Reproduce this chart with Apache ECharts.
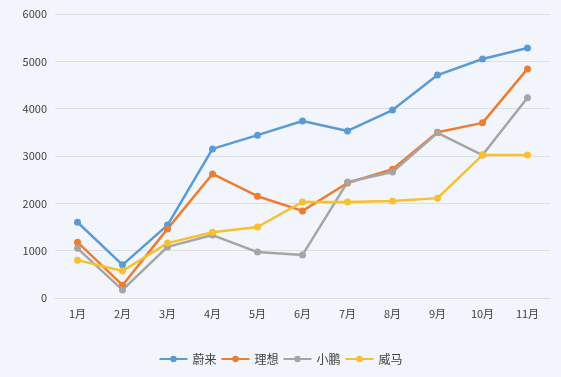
<!DOCTYPE html>
<html>
<head>
<meta charset="utf-8">
<script src="https://cdn.jsdelivr.net/npm/echarts@6/dist/echarts.min.js"></script>
<style>
  html, body { margin: 0; padding: 0; background: #f2f6fc; }
  #chart { width: 561px; height: 377px; }
</style>
</head>
<body>
<div id="chart"></div>
<script>
// 月份
var months = ["1月", "2月", "3月", "4月", "5月", "6月", "7月", "8月", "9月", "10月", "11月"];
// 各品牌数据
var nio = [1600, 700, 1540, 3150, 3440, 3740, 3530, 3970, 4710, 5050, 5280];
var lixiang = [1180, 270, 1460, 2620, 2150, 1840, 2430, 2720, 3500, 3700, 4840];
var xpeng = [1050, 170, 1080, 1330, 970, 910, 2450, 2660, 3490, 3020, 4230];
var weima = [800, 570, 1160, 1390, 1500, 2030, 2030, 2050, 2110, 3020, 3020];

var colors = ['#5b9bd5', '#ed7d31', '#a5a5a5', '#f5c12e'];

function makeSeries(name, data) {
  return {
    name: name,
    type: 'line',
    data: data,
    symbol: 'circle',
    symbolSize: 7,
    lineStyle: { width: 2.5 },
    emphasis: { disabled: true }
  };
}

var chart = echarts.init(document.getElementById('chart'));
chart.setOption({
  backgroundColor: '#f2f6fc',
  color: colors,
  animation: false,
  grid: { left: 55, right: 11, top: 14, bottom: 79 },
  legend: {
    bottom: 7,
    left: 'center',
    itemWidth: 28,
    itemHeight: 8,
    itemGap: 4,
    textStyle: { color: '#404040', fontSize: 12, fontFamily: 'Noto Sans CJK SC' },
    data: ['蔚来', '理想', '小鹏', '威马']
  },
  xAxis: {
    type: 'category',
    data: months,
    axisLine: { lineStyle: { color: '#d9dce3' } },
    axisTick: { show: false },
    axisLabel: { color: '#404040', fontSize: 11, margin: 10, fontFamily: 'Noto Sans CJK SC' }
  },
  yAxis: {
    type: 'value',
    min: 0,
    max: 6000,
    interval: 1000,
    axisLabel: {
      color: '#404040', fontSize: 11, margin: 8, fontFamily: 'Noto Sans CJK SC',
      formatter: function (v) { return String(v); }
    },
    splitLine: { lineStyle: { color: '#dcdfe6' } }
  },
  series: [
    makeSeries('蔚来', nio),
    makeSeries('理想', lixiang),
    makeSeries('小鹏', xpeng),
    makeSeries('威马', weima)
  ]
});
</script>
</body>
</html>
